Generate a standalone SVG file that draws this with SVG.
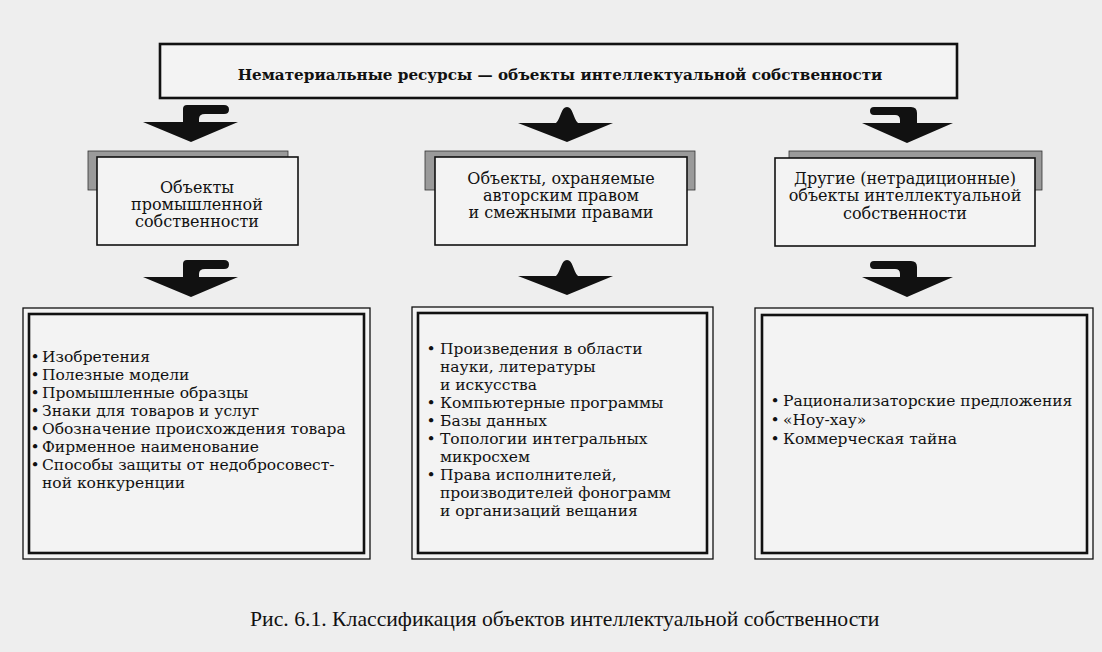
<svg xmlns="http://www.w3.org/2000/svg" width="1102" height="652" viewBox="0 0 1102 652">
<style>
.bg{fill:#eeeeee}
.box{fill:#f3f3f3;stroke:#111;stroke-width:1.6}
.top{fill:#f3f3f3;stroke:#111;stroke-width:2.6}
.shadow{fill:#9a9a9a;stroke:#333;stroke-width:0.8}
.outer{fill:#f3f3f3;stroke:#111;stroke-width:1.3}
.inner{fill:none;stroke:#111;stroke-width:2.6}
.arrow{fill:#111}
.hd{font-family:"DejaVu Serif","Liberation Serif",serif;font-weight:bold;font-size:15.2px;fill:#111;text-anchor:middle}
.t{font-family:"DejaVu Serif","Liberation Serif",serif;font-size:16px;fill:#111;text-anchor:middle}
.b{font-family:"DejaVu Serif","Liberation Serif",serif;font-size:15.5px;fill:#111}
.d{font-family:"DejaVu Serif","Liberation Serif",serif;font-size:15.5px;fill:#111;text-anchor:middle}
.cap{font-family:"Liberation Serif",serif;font-size:21.7px;fill:#111}
</style>
<defs>
<path id="arrL" d="M183,109 Q183,105 187,105 L224,105 Q229,105 229,109.5 Q229,114 224,114 L205,114 Q199,114 199,119 L199,122 L238,122 L191,142 L143,122 L183,122 Z"/>
<path id="arrM" d="M518,123 L556,123 C561,118 561,107 567,107 C573,107 573,118 578,123 L613,123 L567,142 Z"/>
<path id="arrR" d="M874,107 L911,107 Q917,107 917,113 L917,123 L953,123 L907,143 L862,123 L900,123 L900,120 Q900,115 895,115 L874,115 Q870,115 870,111 Q870,107 874,107 Z"/>
</defs>
<rect class="bg" x="0" y="0" width="1102" height="652"/>

<g id="connectors">
<use href="#arrL" class="arrow"/>
<use href="#arrL" class="arrow" transform="translate(0,155)"/>
<use href="#arrM" class="arrow"/>
<use href="#arrM" class="arrow" transform="translate(0,153)"/>
<use href="#arrR" class="arrow"/>
<use href="#arrR" class="arrow" transform="translate(0,154)"/>
</g>

<g id="root">
<rect class="top" x="160" y="44" width="797" height="54"/>
<text class="hd" x="560" y="80">Нематериальные ресурсы — объекты интеллектуальной собственности</text>
</g>

<g id="industrial">
<rect class="shadow" x="88" y="151" width="200" height="39"/>
<rect class="box" x="97" y="157" width="201" height="88"/>
<text class="t" x="197" y="193">Объекты</text>
<text class="t" x="197" y="210">промышленной</text>
<text class="t" x="197" y="227">собственности</text>
</g>

<g id="copyright">
<rect class="shadow" x="425" y="151" width="270" height="39"/>
<rect class="box" x="435" y="157" width="252" height="88"/>
<text class="t" x="561" y="184">Объекты, охраняемые</text>
<text class="t" x="561" y="201">авторским правом</text>
<text class="t" x="561" y="218">и смежными правами</text>
</g>

<g id="other">
<rect class="shadow" x="789" y="151" width="253" height="39"/>
<rect class="box" x="775" y="158" width="260" height="88"/>
<text class="t" x="905" y="184">Другие (нетрадиционные)</text>
<text class="t" x="905" y="201">объекты интеллектуальной</text>
<text class="t" x="905" y="219">собственности</text>
</g>

<g id="industrial-list">
<rect class="outer" x="23" y="308" width="347" height="251"/>
<rect class="inner" x="29" y="314" width="335" height="239"/>
<text class="d" x="35" y="362">•</text><text class="b" x="42" y="362">Изобретения</text>
<text class="d" x="35" y="380">•</text><text class="b" x="42" y="380">Полезные модели</text>
<text class="d" x="35" y="398">•</text><text class="b" x="42" y="398">Промышленные образцы</text>
<text class="d" x="35" y="416">•</text><text class="b" x="42" y="416">Знаки для товаров и услуг</text>
<text class="d" x="35" y="434">•</text><text class="b" x="42" y="434">Обозначение происхождения товара</text>
<text class="d" x="35" y="452">•</text><text class="b" x="42" y="452">Фирменное наименование</text>
<text class="d" x="35" y="470">•</text><text class="b" x="42" y="470">Способы защиты от недобросовест-</text>
<text class="b" x="42" y="488">ной конкуренции</text>
</g>

<g id="copyright-list">
<rect class="outer" x="412" y="307" width="301" height="252"/>
<rect class="inner" x="418" y="313" width="289" height="240"/>
<text class="d" x="431" y="354">•</text><text class="b" x="440" y="354">Произведения в области</text>
<text class="b" x="440" y="372">науки, литературы</text>
<text class="b" x="440" y="390">и искусства</text>
<text class="d" x="431" y="408">•</text><text class="b" x="440" y="408">Компьютерные программы</text>
<text class="d" x="431" y="426">•</text><text class="b" x="440" y="426">Базы данных</text>
<text class="d" x="431" y="444">•</text><text class="b" x="440" y="444">Топологии интегральных</text>
<text class="b" x="440" y="462">микросхем</text>
<text class="d" x="431" y="480">•</text><text class="b" x="440" y="480">Права исполнителей,</text>
<text class="b" x="440" y="498">производителей фонограмм</text>
<text class="b" x="440" y="516">и организаций вещания</text>
</g>

<g id="other-list">
<rect class="outer" x="755" y="308" width="338" height="251"/>
<rect class="inner" x="762" y="315" width="325" height="238"/>
<text class="d" x="775" y="406">•</text><text class="b" x="783" y="406">Рационализаторские предложения</text>
<text class="d" x="775" y="425">•</text><text class="b" x="783" y="425">«Ноу-хау»</text>
<text class="d" x="775" y="444">•</text><text class="b" x="783" y="444">Коммерческая тайна</text>
</g>

<text class="cap" x="250" y="626">Рис. 6.1. Классификация объектов интеллектуальной собственности</text>
</svg>
